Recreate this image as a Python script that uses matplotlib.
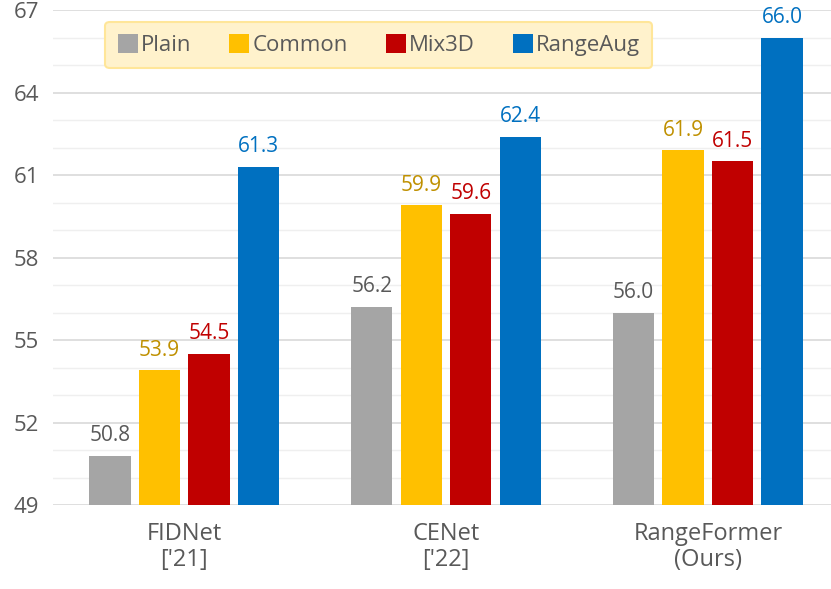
import numpy as np
import matplotlib
matplotlib.use('Agg')
import matplotlib.pyplot as plt

plt.rcParams['font.family'] = ['Open Sans', 'DejaVu Sans']

# data
models = ["FIDNet\n['21]", "CENet\n['22]", "RangeFormer\n(Ours)"]
methods = ['Plain', 'Common', 'Mix3D', 'RangeAug']
plain = [50.8, 56.2, 56.0]
common = [53.9, 59.9, 61.9]
mix3d = [54.5, 59.6, 61.5]
rangeaug = [61.3, 62.4, 66.0]

series = [plain, common, mix3d, rangeaug]
bar_colors = ['#A5A5A5', '#FFC000', '#C00000', '#0070C0']
text_colors = ['#595959', '#BF9000', '#C00000', '#0070C0']

fig = plt.figure(figsize=(8.31, 5.89), dpi=100)
ax = fig.add_axes([0.064, 0.1426, 0.936, 0.8404])

x = np.arange(len(models))
step = 0.189
width = 0.158
offsets = [-1.5, -0.5, 0.5, 1.5]

for vals, name, bc, tc, off in zip(series, methods, bar_colors, text_colors, offsets):
    ax.bar(x + off * step, vals, width=width, color=bc, label=name, zorder=3)
    for xi, v in zip(x + off * step, vals):
        ax.text(xi, v + 0.35, '%.1f' % v, ha='center', va='bottom',
                fontsize=15, color=tc, clip_on=False)

ax.set_xlim(-0.5, 2.47)
ax.set_ylim(49, 67)
ax.set_yticks(np.arange(49, 68, 3))
ax.set_yticks(np.arange(49, 68, 1), minor=True)
ax.grid(axis='y', which='major', color='#D9D9D9', linewidth=1.2, zorder=0)
ax.grid(axis='y', which='minor', color='#EFEFEF', linewidth=1.0, zorder=0)
for s in ax.spines.values():
    s.set_visible(False)

ax.set_xticks(x)
ax.set_xticklabels(models, fontsize=17, color='#595959', linespacing=1.15)
ax.tick_params(axis='x', length=0, pad=12)
ax.tick_params(axis='y', which='both', length=0, labelsize=16,
               labelcolor='#595959', pad=10)

leg = ax.legend(loc='upper left', bbox_to_anchor=(0.067, 0.976), ncol=4,
                fontsize=16, frameon=True, fancybox=True,
                handlelength=0.9, handleheight=0.9, handletextpad=0.15,
                columnspacing=1.7, borderpad=0.55, borderaxespad=0)
for t in leg.get_texts():
    t.set_color('#595959')
frame = leg.get_frame()
frame.set_facecolor('#FFF2CC')
frame.set_edgecolor('#FFE699')
frame.set_linewidth(1.5)
frame.set_alpha(1)

fig.savefig('out.png', dpi=100)
